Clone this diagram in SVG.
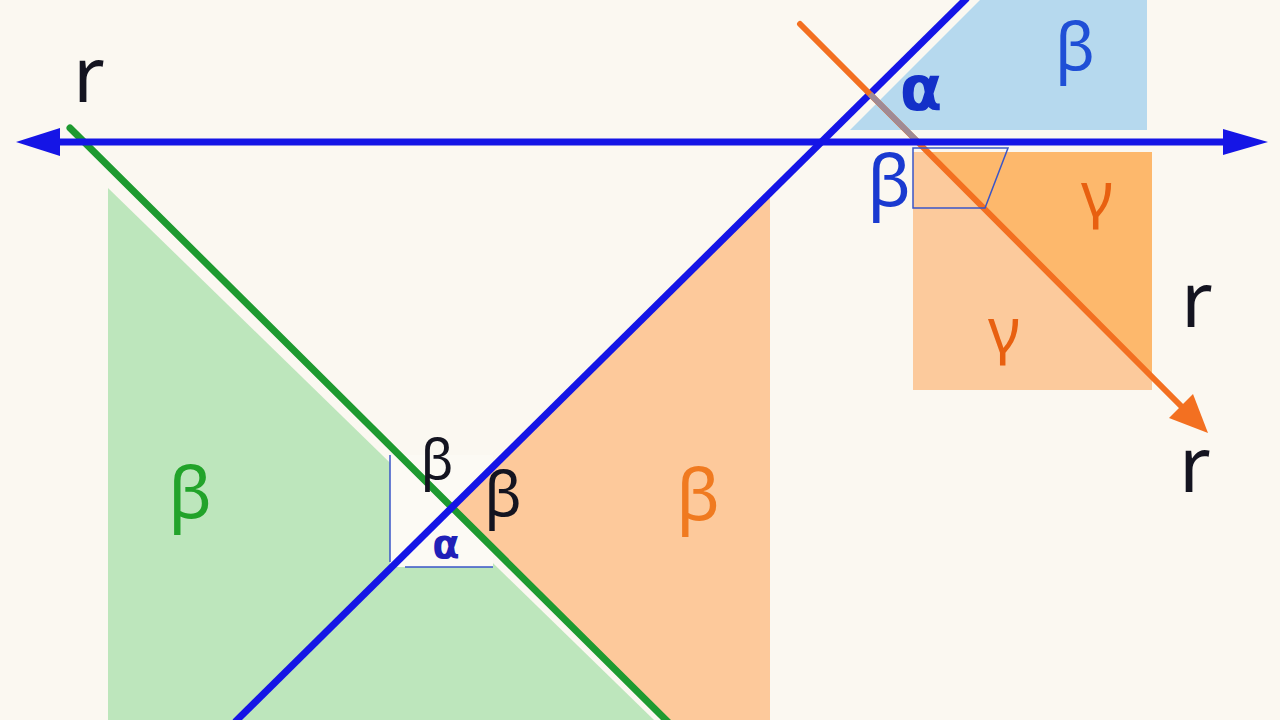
<svg xmlns="http://www.w3.org/2000/svg" width="1280" height="720" viewBox="0 0 1280 720">
<style>
.g{font-family:"Noto Sans","DejaVu Sans",sans-serif;text-anchor:middle}
.a{font-family:"DejaVu Sans","Noto Sans",sans-serif;text-anchor:middle;font-weight:bold}
.blk{fill:#141420}
.bl{stroke:#1515e6;stroke-width:7;fill:none}
.thin{stroke:#3a55c8;stroke-width:1.5;fill:none}
</style>
<rect width="1280" height="720" fill="#fbf8f1"/>
<g id="regions">
<polygon id="green-region" points="108,188 654,720 108,720" fill="#bde6bc"/>
<rect id="white-box" x="390" y="455" width="103" height="112" fill="#fcfaf4"/>
<polygon id="orange-region" points="770,200 770,720 666,720 452,506 770,192" fill="#fdc99b"/>
<polygon id="blue-region" points="980,0 1147,0 1147,130 850,130" fill="#b6d9ee"/>
<polygon id="orange-light" points="913,152 928,152 1152,376 1152,390 913,390" fill="#fcca9c"/>
<polygon id="orange-dark" points="928,152 1152,152 1152,376" fill="#fdb86c"/>
</g>
<g id="connectors">
<line x1="70" y1="128" x2="668" y2="722" stroke="#1e9a30" stroke-width="7" stroke-linecap="round"/>
<line x1="235" y1="722" x2="967" y2="-2" class="bl"/>
<line x1="800" y1="24" x2="1185" y2="410" stroke="#f37021" stroke-width="6" stroke-linecap="round"/>
<line x1="870" y1="94" x2="918" y2="142" stroke="#a08a94" stroke-width="6"/>
<polygon points="1208,433 1169,418 1193,394" fill="#f37021"/>
<line x1="50" y1="142" x2="1235" y2="142" class="bl"/>
<polygon points="16,142 60,128 60,156" fill="#1515e6"/>
<polygon points="1268,142 1223,129 1223,155" fill="#1515e6"/>
<polyline class="thin" points="390,455 390,562"/>
<polyline class="thin" points="405,567 493,567"/>
<polygon class="thin" points="913,148 1008,148 985,208 913,208"/>
</g>
<g id="labels">
<text class="g" x="190" y="518" font-size="72" fill="#22a32a">β</text>
<text class="g blk" x="437" y="479" font-size="54">β</text>
<text class="g blk" x="503" y="516" font-size="62">β</text>
<text class="a" x="446" y="558" font-size="40" fill="#2020b8">α</text>
<text class="g" x="698" y="520" font-size="72" fill="#f07a20">β</text>
<text class="g" x="1075" y="70" font-size="66" fill="#1f4fd6">β</text>
<text class="a" x="921" y="110" font-size="62" fill="#1330c8">α</text>
<text class="g" x="889" y="206" font-size="72" fill="#1a3ad0">β</text>
<text class="g" x="1097" y="216" font-size="62" fill="#e86010">γ</text>
<text class="g" x="1004" y="352" font-size="62" fill="#e86010">γ</text>
<text class="g blk" x="1197" y="327" font-size="76">r</text>
<text class="g blk" x="1195" y="492" font-size="76">r</text>
<text class="g blk" x="89" y="102" font-size="76">r</text>
</g>
</svg>
